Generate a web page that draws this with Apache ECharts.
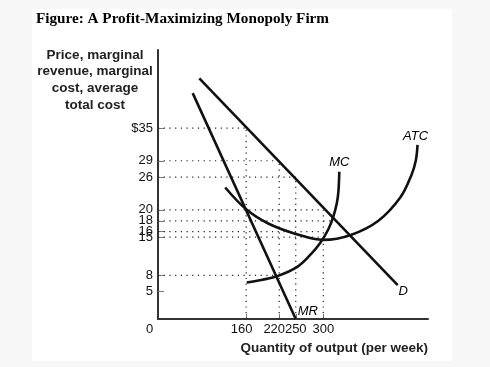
<!DOCTYPE html>
<html><head><meta charset="utf-8">
<script src="https://cdn.jsdelivr.net/npm/echarts@6/dist/echarts.min.js"></script>
<style>
html,body{margin:0;padding:0;background:#f7f7f7;width:490px;height:367px;overflow:hidden}
#chart{position:absolute;left:32px;top:9px;width:420px;height:352px;background:#fff}
</style></head><body><div id="chart"></div>
<script>
// ---- data ----
const yTickValues = [35, 29, 26, 20, 18, 16, 15, 8, 5];
const xTickValues = [160, 220, 250, 300];
const demand = [[75, 44.1], [435, 6.2]];
const marginalRevenue = [[63, 41.4], [250, 0]];
const marginalCost = [[161, 6.7], [190, 7.2], [218, 7.9], [252, 9.5], [275, 11.6], [294, 13.9], [309, 16.4], [318, 18.7], [324.5, 21.2], [327.5, 23.5], [329, 27]];
const averageTotalCost = [[122, 24.1], [160, 20.1], [200, 17.5], [250, 15.6], [300, 14.5], [350, 15.4], [400, 18.0], [440, 22.3], [460, 26.4], [468, 29.1], [471, 31.9]];
const horizontalGuides = [[35, 160], [29, 220], [26, 250], [20, 300], [18, 316], [16, 300], [15, 300], [8, 220]]; // [price, up to quantity]
const verticalGuides = [[160, 35], [220, 29], [250, 26], [300, 20]]; // [quantity, up to price]
const curveNames = ['D', 'MR', 'MC', 'ATC'];

// ---- chart ----
const sans = "'Liberation Sans', Arial, sans-serif";
const chart = echarts.init(document.getElementById('chart'), null, {renderer: 'canvas'});
const dotStyle = {color: '#222', width: 1.2, type: [1.2, 4.5]};
const curveStyle = {color: '#111', width: 2.6};

const series = [];
horizontalGuides.forEach(([p, q]) => series.push({
  type: 'line', data: [[0, p], [q, p]], symbol: 'none', lineStyle: dotStyle, silent: true, z: 1
}));
verticalGuides.forEach(([q, p]) => series.push({
  type: 'line', data: [[q, 0], [q, p]], symbol: 'none', lineStyle: dotStyle, silent: true, z: 1
}));
const curves = [demand, marginalRevenue, marginalCost, averageTotalCost];
curves.forEach((c, i) => series.push({
  type: 'line', data: c, symbol: 'none', smooth: i >= 2 ? 0.35 : false, lineStyle: curveStyle, z: 3
}));
const labelOffsets = [[5.4, 6.3], [12, -7.5], [0, -9.7], [-2, -8.3]];
series.push({
  type: 'scatter', symbolSize: 0, z: 4, silent: true,
  itemStyle: {opacity: 1},
  data: curves.map((c, i) => ({
    value: c[c.length - 1],
    label: {show: true, formatter: curveNames[i], position: labelOffsets[i], align: 'center', verticalAlign: 'middle',
      fontFamily: sans, fontStyle: 'italic', fontSize: 13, color: '#000', textBorderWidth: 0, opacity: 1}
  })).concat([{
    value: [0, 0],
    label: {show: true, formatter: '0', position: [-8.5, 10.5], align: 'center', verticalAlign: 'middle',
      fontFamily: sans, fontSize: 13, color: '#111', textBorderWidth: 0, opacity: 1}
  }])
});

const xLabelRich = {
  s9: {fontFamily: sans, fontSize: 13, color: '#111', padding: [0, 9, 0, 0]},
  s10: {fontFamily: sans, fontSize: 13, color: '#111', padding: [0, 10, 0, 0]},
  s0: {fontFamily: sans, fontSize: 13, color: '#111'}
};

chart.setOption({
  animation: false,
  grid: {left: 126, top: 41, right: 24, bottom: 42, containLabel: false},
  xAxis: {
    type: 'value', min: 0, max: 490,
    axisLine: {show: true, lineStyle: {color: '#333', width: 2}},
    splitLine: {show: false},
    axisTick: {show: true, inside: true, length: 5, customValues: xTickValues, lineStyle: {color: '#777'}},
    axisLabel: {customValues: xTickValues, margin: 4, fontFamily: sans, fontSize: 13, color: '#111', rich: xLabelRich,
      formatter: v => v === 160 ? '{s9|' + v + '}' : v === 220 ? '{s10|' + v + '}' : '{s0|' + v + '}'}
  },
  yAxis: {
    type: 'value', min: 0, max: 49.3,
    axisLine: {show: true, lineStyle: {color: '#333', width: 2}},
    splitLine: {show: false},
    axisTick: {show: true, inside: true, length: 6, customValues: yTickValues, lineStyle: {color: '#777'}},
    axisLabel: {customValues: yTickValues, margin: 5, fontFamily: sans, fontSize: 13, color: '#111',
      formatter: v => v === 35 ? '$35' : String(v)}
  },
  graphic: [
    {type: 'text', x: 4, y: 10, style: {text: 'Figure: A Profit-Maximizing Monopoly Firm', fill: '#000',
      font: "bold 15.2px 'Liberation Serif', 'Times New Roman', serif", align: 'left', verticalAlign: 'middle'}},
    {type: 'text', x: 63, y: 37.6, style: {text: 'Price, marginal\nrevenue, marginal\ncost, average\ntotal cost', fill: '#222',
      font: "bold 13.5px " + sans, align: 'center', verticalAlign: 'top', lineHeight: 16.7}},
    {type: 'text', x: 396, y: 339, style: {text: 'Quantity of output (per week)', fill: '#222',
      font: "bold 13.5px " + sans, align: 'right', verticalAlign: 'middle'}}
  ],
  series: series
});
</script></body></html>
